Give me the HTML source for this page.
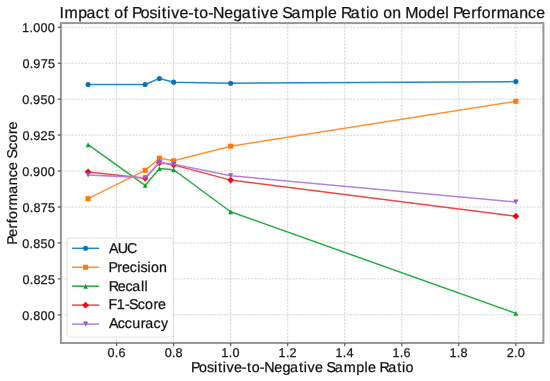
<!DOCTYPE html>
<html><head><meta charset="utf-8"><style>
html,body{margin:0;padding:0;background:#fff;width:550px;height:381px;overflow:hidden}
svg{display:block;will-change:transform}
text{font-family:"Liberation Sans", sans-serif;text-rendering:geometricPrecision;stroke:#1a1a1a;stroke-width:0.25px}
</style></head><body>
<svg width="550" height="381" viewBox="0 0 550 381" font-family="Liberation Sans, sans-serif">
<g stroke="#c9c9c9" stroke-width="0.8" stroke-dasharray="2.2 1.2"><line x1="116.60" y1="23.1" x2="116.60" y2="342.95"/><line x1="173.64" y1="23.1" x2="173.64" y2="342.95"/><line x1="230.68" y1="23.1" x2="230.68" y2="342.95"/><line x1="287.72" y1="23.1" x2="287.72" y2="342.95"/><line x1="344.76" y1="23.1" x2="344.76" y2="342.95"/><line x1="401.80" y1="23.1" x2="401.80" y2="342.95"/><line x1="458.84" y1="23.1" x2="458.84" y2="342.95"/><line x1="515.88" y1="23.1" x2="515.88" y2="342.95"/><line x1="60.9" y1="27.24" x2="543.4" y2="27.24"/><line x1="60.9" y1="63.19" x2="543.4" y2="63.19"/><line x1="60.9" y1="99.14" x2="543.4" y2="99.14"/><line x1="60.9" y1="135.09" x2="543.4" y2="135.09"/><line x1="60.9" y1="171.04" x2="543.4" y2="171.04"/><line x1="60.9" y1="206.99" x2="543.4" y2="206.99"/><line x1="60.9" y1="242.94" x2="543.4" y2="242.94"/><line x1="60.9" y1="278.89" x2="543.4" y2="278.89"/><line x1="60.9" y1="314.84" x2="543.4" y2="314.84"/></g>
<polyline points="88.08,84.47 145.12,84.47 159.38,78.43 173.64,82.17 230.68,83.18 515.88,81.60" fill="none" stroke="#2288c8" stroke-width="1.5" stroke-linejoin="round"/>
<circle cx="88.08" cy="84.47" r="2.55" fill="#0a72ba"/>
<circle cx="145.12" cy="84.47" r="2.55" fill="#0a72ba"/>
<circle cx="159.38" cy="78.43" r="2.55" fill="#0a72ba"/>
<circle cx="173.64" cy="82.17" r="2.55" fill="#0a72ba"/>
<circle cx="230.68" cy="83.18" r="2.55" fill="#0a72ba"/>
<circle cx="515.88" cy="81.60" r="2.55" fill="#0a72ba"/>
<polyline points="88.08,198.65 145.12,170.32 159.38,158.24 173.64,160.83 230.68,146.16 515.88,101.30" fill="none" stroke="#ff9236" stroke-width="1.5" stroke-linejoin="round"/>
<rect x="85.58" y="196.15" width="5.0" height="5.0" fill="#ff7800"/>
<rect x="142.62" y="167.82" width="5.0" height="5.0" fill="#ff7800"/>
<rect x="156.88" y="155.74" width="5.0" height="5.0" fill="#ff7800"/>
<rect x="171.14" y="158.33" width="5.0" height="5.0" fill="#ff7800"/>
<rect x="228.18" y="143.66" width="5.0" height="5.0" fill="#ff7800"/>
<rect x="513.38" y="98.80" width="5.0" height="5.0" fill="#ff7800"/>
<polyline points="88.08,144.72 145.12,185.42 159.38,168.60 173.64,169.75 230.68,211.74 515.88,313.40" fill="none" stroke="#24ad44" stroke-width="1.5" stroke-linejoin="round"/>
<path d="M88.08,142.27 L90.48,147.17 L85.68,147.17Z" fill="#159e30"/>
<path d="M145.12,182.97 L147.52,187.87 L142.72,187.87Z" fill="#159e30"/>
<path d="M159.38,166.15 L161.78,171.05 L156.98,171.05Z" fill="#159e30"/>
<path d="M173.64,167.30 L176.04,172.20 L171.24,172.20Z" fill="#159e30"/>
<path d="M230.68,209.29 L233.08,214.19 L228.28,214.19Z" fill="#159e30"/>
<path d="M515.88,310.95 L518.28,315.85 L513.48,315.85Z" fill="#159e30"/>
<polyline points="88.08,171.90 145.12,178.37 159.38,162.70 173.64,164.86 230.68,180.10 515.88,216.19" fill="none" stroke="#f24444" stroke-width="1.5" stroke-linejoin="round"/>
<path d="M88.08,168.45 L91.53,171.90 L88.08,175.35 L84.63,171.90Z" fill="#ec0c10"/>
<path d="M145.12,174.92 L148.57,178.37 L145.12,181.82 L141.67,178.37Z" fill="#ec0c10"/>
<path d="M159.38,159.25 L162.83,162.70 L159.38,166.15 L155.93,162.70Z" fill="#ec0c10"/>
<path d="M173.64,161.41 L177.09,164.86 L173.64,168.31 L170.19,164.86Z" fill="#ec0c10"/>
<path d="M230.68,176.65 L234.13,180.10 L230.68,183.55 L227.23,180.10Z" fill="#ec0c10"/>
<path d="M515.88,212.74 L519.33,216.19 L515.88,219.64 L512.43,216.19Z" fill="#ec0c10"/>
<polyline points="88.08,175.07 145.12,177.65 159.38,162.41 173.64,164.14 230.68,175.79 515.88,201.96" fill="none" stroke="#b282dc" stroke-width="1.5" stroke-linejoin="round"/>
<path d="M88.08,177.57 L90.63,172.57 L85.53,172.57Z" fill="#9a58cc"/>
<path d="M145.12,180.15 L147.67,175.15 L142.57,175.15Z" fill="#9a58cc"/>
<path d="M159.38,164.91 L161.93,159.91 L156.83,159.91Z" fill="#9a58cc"/>
<path d="M173.64,166.64 L176.19,161.64 L171.09,161.64Z" fill="#9a58cc"/>
<path d="M230.68,178.29 L233.23,173.29 L228.13,173.29Z" fill="#9a58cc"/>
<path d="M515.88,204.46 L518.43,199.46 L513.33,199.46Z" fill="#9a58cc"/>
<rect x="60.9" y="23.1" width="482.50" height="319.85" fill="none" stroke="#969696" stroke-width="2.0"/>
<g stroke="#555" stroke-width="1.2"><line x1="116.60" y1="342.95" x2="116.60" y2="346.15"/><line x1="173.64" y1="342.95" x2="173.64" y2="346.15"/><line x1="230.68" y1="342.95" x2="230.68" y2="346.15"/><line x1="287.72" y1="342.95" x2="287.72" y2="346.15"/><line x1="344.76" y1="342.95" x2="344.76" y2="346.15"/><line x1="401.80" y1="342.95" x2="401.80" y2="346.15"/><line x1="458.84" y1="342.95" x2="458.84" y2="346.15"/><line x1="515.88" y1="342.95" x2="515.88" y2="346.15"/><line x1="57.70" y1="27.24" x2="60.9" y2="27.24"/><line x1="57.70" y1="63.19" x2="60.9" y2="63.19"/><line x1="57.70" y1="99.14" x2="60.9" y2="99.14"/><line x1="57.70" y1="135.09" x2="60.9" y2="135.09"/><line x1="57.70" y1="171.04" x2="60.9" y2="171.04"/><line x1="57.70" y1="206.99" x2="60.9" y2="206.99"/><line x1="57.70" y1="242.94" x2="60.9" y2="242.94"/><line x1="57.70" y1="278.89" x2="60.9" y2="278.89"/><line x1="57.70" y1="314.84" x2="60.9" y2="314.84"/></g>
<g fill="#1a1a1a"><text x="107.58 114.82 118.55" y="357.30" font-size="12.65">0.6</text><text x="164.65 171.89 175.62" y="357.30" font-size="12.65">0.8</text><text x="221.35 228.67 232.40" y="357.30" font-size="12.65">1.0</text><text x="278.59 285.90 289.48" y="357.30" font-size="12.65">1.2</text><text x="335.38 342.69 346.42" y="357.30" font-size="12.65">1.4</text><text x="392.45 399.77 403.49" y="357.30" font-size="12.65">1.6</text><text x="449.53 456.84 460.57" y="357.30" font-size="12.65">1.8</text><text x="506.68 514.08 517.81" y="357.30" font-size="12.65">2.0</text><text x="22.11 29.42 33.15 40.47 47.78" y="32.29" font-size="12.65">1.000</text><text x="22.42 29.66 33.36 40.69 47.98" y="68.24" font-size="12.65">0.975</text><text x="22.18 29.42 33.12 40.42 47.78" y="104.19" font-size="12.65">0.950</text><text x="22.42 29.66 33.36 40.56 47.98" y="140.14" font-size="12.65">0.925</text><text x="22.18 29.42 33.12 40.47 47.78" y="176.09" font-size="12.65">0.900</text><text x="22.42 29.66 33.39 40.69 47.98" y="212.04" font-size="12.65">0.875</text><text x="22.18 29.42 33.15 40.42 47.78" y="247.99" font-size="12.65">0.850</text><text x="22.42 29.66 33.39 40.56 47.98" y="283.94" font-size="12.65">0.825</text><text x="22.18 29.42 33.15 40.47 47.78" y="319.89" font-size="12.65">0.800</text></g>
<g fill="#111"><text x="59.61 64.40 78.24 86.60 95.82 104.52 109.68 114.18 123.52 128.17 131.96 140.85 149.57 157.45 161.79 167.11 171.17 179.47 188.25 194.08 199.16 208.22 213.12 224.31 233.22 241.74 251.72 257.04 261.10 269.40 278.31 282.17 291.42 301.27 315.11 324.27 328.09 337.00 341.00 350.65 360.63 365.95 369.71 378.63 383.13 392.14 401.19 405.30 418.14 427.05 436.18 445.24 449.10 452.89 461.83 471.24 477.10 481.67 491.08 496.63 509.68 519.27 528.04 536.21" y="18.00" font-size="15.87">Impact of Positive-to-Negative Sample Ratio on Model Performance</text></g>
<g fill="#111"><text x="191.08 199.10 206.96 214.06 217.98 222.77 226.44 233.91 241.83 247.09 251.67 259.83 264.26 274.34 282.38 290.06 299.06 303.85 307.52 314.99 323.03 326.51 334.84 343.73 356.21 364.46 367.91 375.94 379.55 388.25 397.25 402.05 405.44" y="371.80" font-size="14.31">Positive-to-Negative Sample Ratio</text></g>
<g fill="#111" transform="translate(16.8,0) rotate(-90)"><text x="-244.87 -236.84 -228.39 -223.13 -219.00 -210.56 -205.54 -193.83 -185.21 -177.33 -169.98 -161.99 -158.50 -149.86 -142.56 -134.12 -129.54" y="0.00" font-size="14.14">Performance Score</text></g>
<rect x="67.2" y="238.1" width="106.2" height="98.9" rx="2" fill="#fff" fill-opacity="0.92" stroke="#e0e0e0" stroke-width="0.9"/><line x1="72" y1="248.30" x2="99.2" y2="248.30" stroke="#2288c8" stroke-width="1.5"/><circle cx="85.60" cy="248.30" r="2.55" fill="#0a72ba"/><text x="108.93 117.70 126.89" y="252.60" font-size="14.25" fill="#111">AUC</text><line x1="72" y1="267.25" x2="99.2" y2="267.25" stroke="#ff9236" stroke-width="1.5"/><rect x="83.10" y="264.75" width="5.0" height="5.0" fill="#ff7800"/><text x="108.61 117.36 121.91 129.67 137.18 140.46 147.52 150.90 158.99" y="271.55" font-size="14.25" fill="#111">Precision</text><line x1="72" y1="286.20" x2="99.2" y2="286.20" stroke="#24ad44" stroke-width="1.5"/><path d="M85.60,283.75 L88.00,288.65 L83.20,288.65Z" fill="#159e30"/><text x="108.80 117.71 125.47 132.26 140.90 144.50" y="290.50" font-size="14.25" fill="#111">Recall</text><line x1="72" y1="305.15" x2="99.2" y2="305.15" stroke="#f24444" stroke-width="1.5"/><path d="M85.60,301.70 L89.05,305.15 L85.60,308.60 L82.15,305.15Z" fill="#ec0c10"/><text x="108.58 116.78 124.90 129.04 137.67 144.95 153.40 157.96" y="309.45" font-size="14.25" fill="#111">F1-Score</text><line x1="72" y1="324.10" x2="99.2" y2="324.10" stroke="#b282dc" stroke-width="1.5"/><path d="M85.60,326.60 L88.15,321.60 L83.05,321.60Z" fill="#9a58cc"/><text x="108.93 117.72 124.84 132.24 140.85 145.16 153.43 160.98" y="328.40" font-size="14.25" fill="#111">Accuracy</text>
</svg>
</body></html>
